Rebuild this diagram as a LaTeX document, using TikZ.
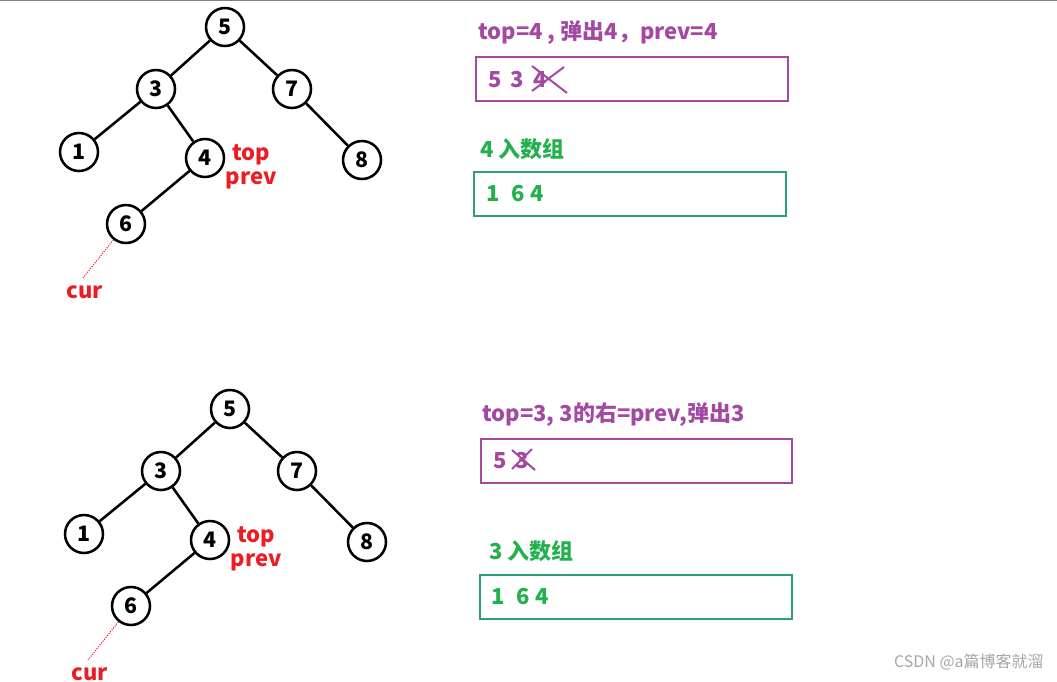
\documentclass[tikz,border=0pt]{standalone}
\usepackage{fontspec}
\setmainfont{Noto Sans CJK SC}
\definecolor{mpur}{HTML}{A349A4}
\definecolor{mgrn}{HTML}{22B14C}
\definecolor{mteal}{HTML}{2E9E78}
\definecolor{mred}{HTML}{ED1C24}
\begin{document}
\begin{tikzpicture}[x=0.75pt,y=-0.75pt,
  tn/.style={circle,draw,line width=1.9pt,minimum size=28.5pt,inner sep=0pt,font=\fontsize{16}{16}\selectfont\bfseries},
  ed/.style={line width=1.9pt},
  lab/.style={font=\fontsize{16.5}{16.5}\selectfont\bfseries,inner sep=0pt},
  redl/.style={lab,text=mred},
  pur/.style={lab,text=mpur},
  grn/.style={lab,text=mgrn},
  pbox/.style={draw=mpur,line width=2pt},
  gbox/.style={draw=mteal,line width=2pt}]
\useasboundingbox (0,0) rectangle (1057,682);
\draw[gray,line width=0.6pt] (0,0.5) -- (1057,0.5);
\foreach \dx/\dy/\s in {0/0/a,5/382/b}{
 \begin{scope}[shift={(\dx,\dy)}]
 \node[tn] (n5\s) at (225,27) {5};
 \node[tn] (n3\s) at (156,89) {3};
 \node[tn] (n7\s) at (292,89) {7};
 \node[tn] (n1\s) at (79,152) {1};
 \node[tn] (n4\s) at (205,158) {4};
 \node[tn] (n8\s) at (362,160) {8};
 \node[tn] (n6\s) at (126,224) {6};
 \draw[ed] (n5\s)--(n3\s); \draw[ed] (n5\s)--(n7\s); \draw[ed] (n3\s)--(n1\s);
 \draw[ed] (n3\s)--(n4\s); \draw[ed] (n7\s)--(n8\s); \draw[ed] (n4\s)--(n6\s);
 \node[redl] (tp\s) at (251,155) {top};
 \node[redl] (pv\s) at (251,180) {prev};
 \node[redl] (cu\s) at (85,292) {cur};
 \coordinate (ce\s) at (83,278);
 \draw[mred,densely dotted,line width=0.8pt] (n6\s) -- (ce\s);
 \end{scope}}
% top right
\node[pur,anchor=west] (t1) at (478,33) {top=4 , 弹出4，prev=4};
\draw[pbox] (476,57) rectangle (788,101);
\node[pur,anchor=west] (s1) at (488,80) {5\hspace{7pt}3\hspace{7pt}4};
\draw[mpur,line width=1.5pt] (532,66)--(567,93) (532,91)--(564,67);
\node[grn,anchor=west] (g1) at (480,149) {4 入数组};
\draw[gbox] (474,172) rectangle (786,216);
\node[grn,anchor=west] (a1) at (486,194) {1\hspace{9pt}6 4};
% bottom right
\node[pur,anchor=west] (t2) at (482,415) {top=3, 3的右=prev,弹出3};
\draw[pbox] (481,439) rectangle (792,483);
\node[pur,anchor=west] (s2) at (493,461) {5\hspace{7pt}3};
\draw[mpur,line width=1.5pt] (512,450)--(535,470) (512,469)--(532,449);
\node[grn,anchor=west] (g2) at (489,551) {3 入数组};
\draw[gbox] (480,575) rectangle (792,619);
\node[grn,anchor=west] (a2) at (491,597) {1\hspace{9pt}6 4};
\node[text=gray!70,font=\fontsize{12}{12}\selectfont,anchor=east,inner sep=0pt] (wm) at (1044,662) {CSDN @a篇博客就溜};
\end{tikzpicture}
\end{document}
